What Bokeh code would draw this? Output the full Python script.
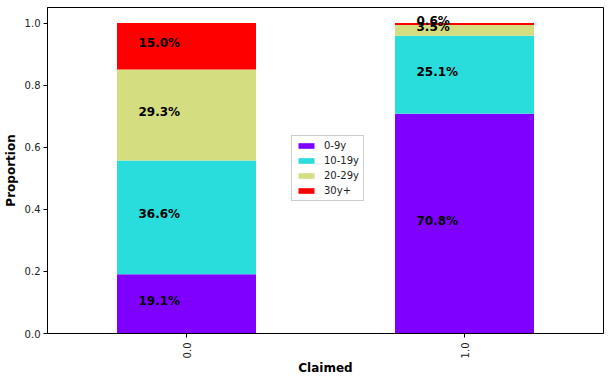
import math
from bokeh.plotting import figure
from bokeh.models import FactorRange, Range1d, NumeralTickFormatter, Legend, LegendItem, ColumnDataSource, FixedTicker
from bokeh.core.properties import value
from bokeh.embed import file_html
from bokeh.resources import INLINE

categories = ["0.0", "1.0"]
groups = ["0-9y", "10-19y", "20-29y", "30y+"]
share_0_9 = [0.191, 0.708]
share_10_19 = [0.366, 0.251]
share_20_29 = [0.293, 0.035]
share_30p = [0.150, 0.006]
colors = ["#8000ff", "#2adddd", "#d4dd80", "#ff0000"]
yticks = [0.0, 0.2, 0.4, 0.6, 0.8, 1.0]

series = [share_0_9, share_10_19, share_20_29, share_30p]
data = {"cat": categories}
for g, s in zip(groups, series):
    data[g] = s
src = ColumnDataSource(data)

p = figure(x_range=FactorRange(*categories, range_padding=0), y_range=Range1d(0, 1.05),
           frame_width=556, frame_height=326,
           output_backend="svg", toolbar_location=None,
           min_border_left=39, min_border_top=7, min_border_right=1, min_border_bottom=0)

renderers = p.vbar_stack(groups, x="cat", width=0.5, source=src, color=colors, line_color=None)

# labels
lx, ly, lt = [], [], []
for i, c in enumerate(categories):
    base = 0.0
    for s in series:
        v = s[i]
        lx.append(c)
        ly.append(base + v / 2)
        lt.append(f"{v*100:.1f}%")
        base += v
p.text(x=lx, y=ly, text=lt, x_offset=-48, y_offset=-3, text_align="left", text_baseline="middle",
       text_font=value("DejaVu Sans"), text_font_size="12px", text_font_style="bold", text_color="black")

legend = Legend(items=[LegendItem(label=g, renderers=[r]) for g, r in zip(groups, renderers)],
                location=(244, 132), label_text_font="DejaVu Sans", label_text_font_size="10px",
                glyph_width=20, glyph_height=7, label_height=11, spacing=4, padding=4, margin=0,
                border_line_color="#cccccc", border_line_alpha=1.0, background_fill_alpha=0.8,
                label_standoff=8, label_text_color="#222222")
p.add_layout(legend, "center")

p.xgrid.grid_line_color = None
p.ygrid.grid_line_color = None
p.outline_line_color = "black"
p.outline_line_width = 1

for ax in (p.xaxis[0], p.yaxis[0]):
    ax.axis_line_color = "black"
    ax.major_tick_line_color = "black"
    ax.major_tick_out = 4
    ax.major_tick_in = 0
    ax.minor_tick_line_color = None
    ax.major_label_text_font = "DejaVu Sans"
    ax.major_label_text_font_size = "10px"
    ax.major_label_text_color = "#222222"
    ax.axis_label_text_font = "DejaVu Sans"
    ax.axis_label_text_font_size = "12px"
    ax.axis_label_text_font_style = "bold"
    ax.axis_label_text_color = "black"
    ax.major_label_standoff = 3
    ax.axis_label_standoff = 4

p.xaxis.major_label_standoff = 5
p.xaxis.axis_label_standoff = 0
p.xaxis.axis_label = "Claimed"
p.yaxis.axis_label = "Proportion"
p.xaxis.major_label_orientation = math.pi / 2
p.yaxis.ticker = FixedTicker(ticks=yticks)
p.yaxis.formatter = NumeralTickFormatter(format="0.0")

open("out.html", "w").write(file_html(p, INLINE))
